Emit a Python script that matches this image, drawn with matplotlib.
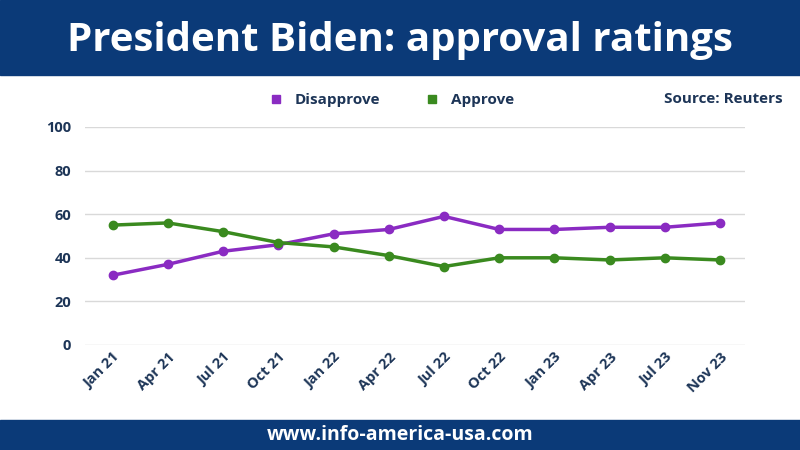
import matplotlib
matplotlib.use("Agg")
import matplotlib.pyplot as plt

plt.rcParams["font.family"] = ["Open Sans", "DejaVu Sans"]

months = ["Jan 21", "Apr 21", "Jul 21", "Oct 21", "Jan 22", "Apr 22", "Jul 22",
          "Oct 22", "Jan 23", "Apr 23", "Jul 23", "Nov 23"]
disapprove = [32, 37, 43, 46, 51, 53, 59, 53, 53, 54, 54, 56]
approve = [55, 56, 52, 47, 45, 41, 36, 40, 40, 39, 40, 39]

navy = "#0b3a78"
text_col = "#1d3557"
purple = "#8a2bc2"
green = "#3a8a1f"

fig = plt.figure(figsize=(8, 4.5), dpi=100)
fig.patch.set_facecolor("white")

# banners
fig.patches.append(plt.Rectangle((0, 1 - 75/450), 1, 75/450, transform=fig.transFigure,
                                 color=navy, zorder=0))
fig.patches.append(plt.Rectangle((0, 0), 1, 30/450, transform=fig.transFigure,
                                 color=navy, zorder=0))
fig.text(0.5, 1 - 40/450, "President Biden: approval ratings", color="white",
         fontsize=29, fontweight="bold", ha="center", va="center")
fig.text(0.5, 15/450, "www.info-america-usa.com", color="white",
         fontsize=14, fontweight="bold", ha="center", va="center")

ax = fig.add_axes([85/800, 1 - 345/450, 660/800, 218/450])
x = range(len(months))
ax.plot(x, disapprove, color=purple, lw=2.5, marker="o", ms=6, label="Disapprove")
ax.plot(x, approve, color=green, lw=2.5, marker="o", ms=6, label="Approve")

ax.set_ylim(0, 100)
ax.set_yticks(range(0, 101, 20))
ax.set_xlim(-0.5, len(months) - 0.55)
ax.set_xticks(list(x))
ax.set_xticklabels(months, rotation=45, ha="right", rotation_mode="anchor")
ax.grid(axis="y", color="#d9d9d9", lw=1)
ax.set_axisbelow(True)
for s in ax.spines.values():
    s.set_visible(False)
ax.tick_params(length=0, colors=text_col, labelsize=10.5)
for lbl in ax.get_xticklabels() + ax.get_yticklabels():
    lbl.set_fontweight("bold")
ax.tick_params(axis="y", pad=10)

leg = fig.legend(loc="center", bbox_to_anchor=(0.49, 1 - 100/450), ncol=2, frameon=False,
                 handlelength=0.8, markerscale=1, columnspacing=3,
                 prop={"weight": "bold", "size": 11})
for h in leg.legend_handles:
    h.set_linestyle("none")
    h.set_marker("s")
for t in leg.get_texts():
    t.set_color(text_col)

fig.text(783/800, 1 - 99/450, "Source: Reuters", color=text_col, fontsize=11,
         fontweight="bold", ha="right", va="center")

fig.savefig("out.png", dpi=100)
